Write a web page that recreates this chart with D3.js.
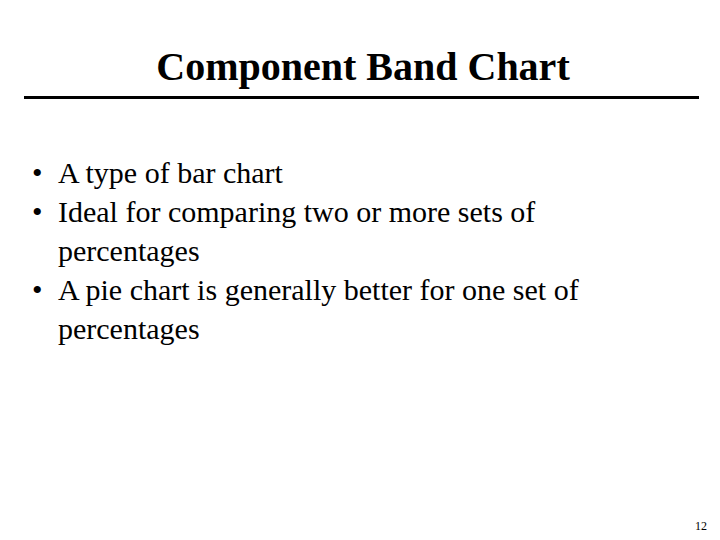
<!DOCTYPE html>
<html>
<head>
<meta charset="utf-8">
<script src="https://cdn.jsdelivr.net/npm/d3@7/dist/d3.min.js"></script>
<style>
  html, body { margin: 0; padding: 0; background: #fff; }
  svg { display: block; }
</style>
</head>
<body>
<script>
const titleText = "Component Band Chart";
const bulletLines = [
  { bullet: true,  text: "A type of bar chart" },
  { bullet: true,  text: "Ideal for comparing two or more sets of" },
  { bullet: false, text: "percentages" },
  { bullet: true,  text: "A pie chart is generally better for one set of" },
  { bullet: false, text: "percentages" }
];
const pageNumber = "12";

const W = 720, H = 540;
const svg = d3.select("body").append("svg")
  .attr("width", W).attr("height", H)
  .attr("viewBox", `0 0 ${W} ${H}`);

svg.append("rect").attr("width", W).attr("height", H).attr("fill", "#fff");

const serif = "'Liberation Serif', 'Times New Roman', 'DejaVu Serif', serif";

// Title
svg.append("text")
  .attr("x", 363).attr("y", 80)
  .attr("text-anchor", "middle")
  .attr("font-family", serif)
  .attr("font-weight", "bold")
  .attr("font-size", 40)
  .attr("fill", "#000")
  .text(titleText);

// Rule under title
svg.append("line")
  .attr("x1", 24).attr("x2", 699)
  .attr("y1", 97.5).attr("y2", 97.5)
  .attr("stroke", "#000").attr("stroke-width", 3);

// Bullet lines
const y = d3.scaleLinear().domain([0, bulletLines.length - 1]).range([183, 339]);

const rows = svg.selectAll("g.row").data(bulletLines).join("g")
  .attr("class", "row")
  .attr("transform", (d, i) => `translate(0,${y(i)})`);

rows.filter(d => d.bullet).append("text")
  .attr("x", 32).attr("y", 0)
  .attr("font-family", serif).attr("font-size", 30).attr("fill", "#000")
  .text("\u2022");

rows.append("text")
  .attr("x", 58).attr("y", 0)
  .attr("font-family", serif).attr("font-size", 30).attr("fill", "#000")
  .text(d => d.text);

// Page number
svg.append("text")
  .attr("x", 707).attr("y", 530)
  .attr("text-anchor", "end")
  .attr("font-family", serif).attr("font-size", 12).attr("fill", "#000")
  .text(pageNumber);
</script>
</body>
</html>
